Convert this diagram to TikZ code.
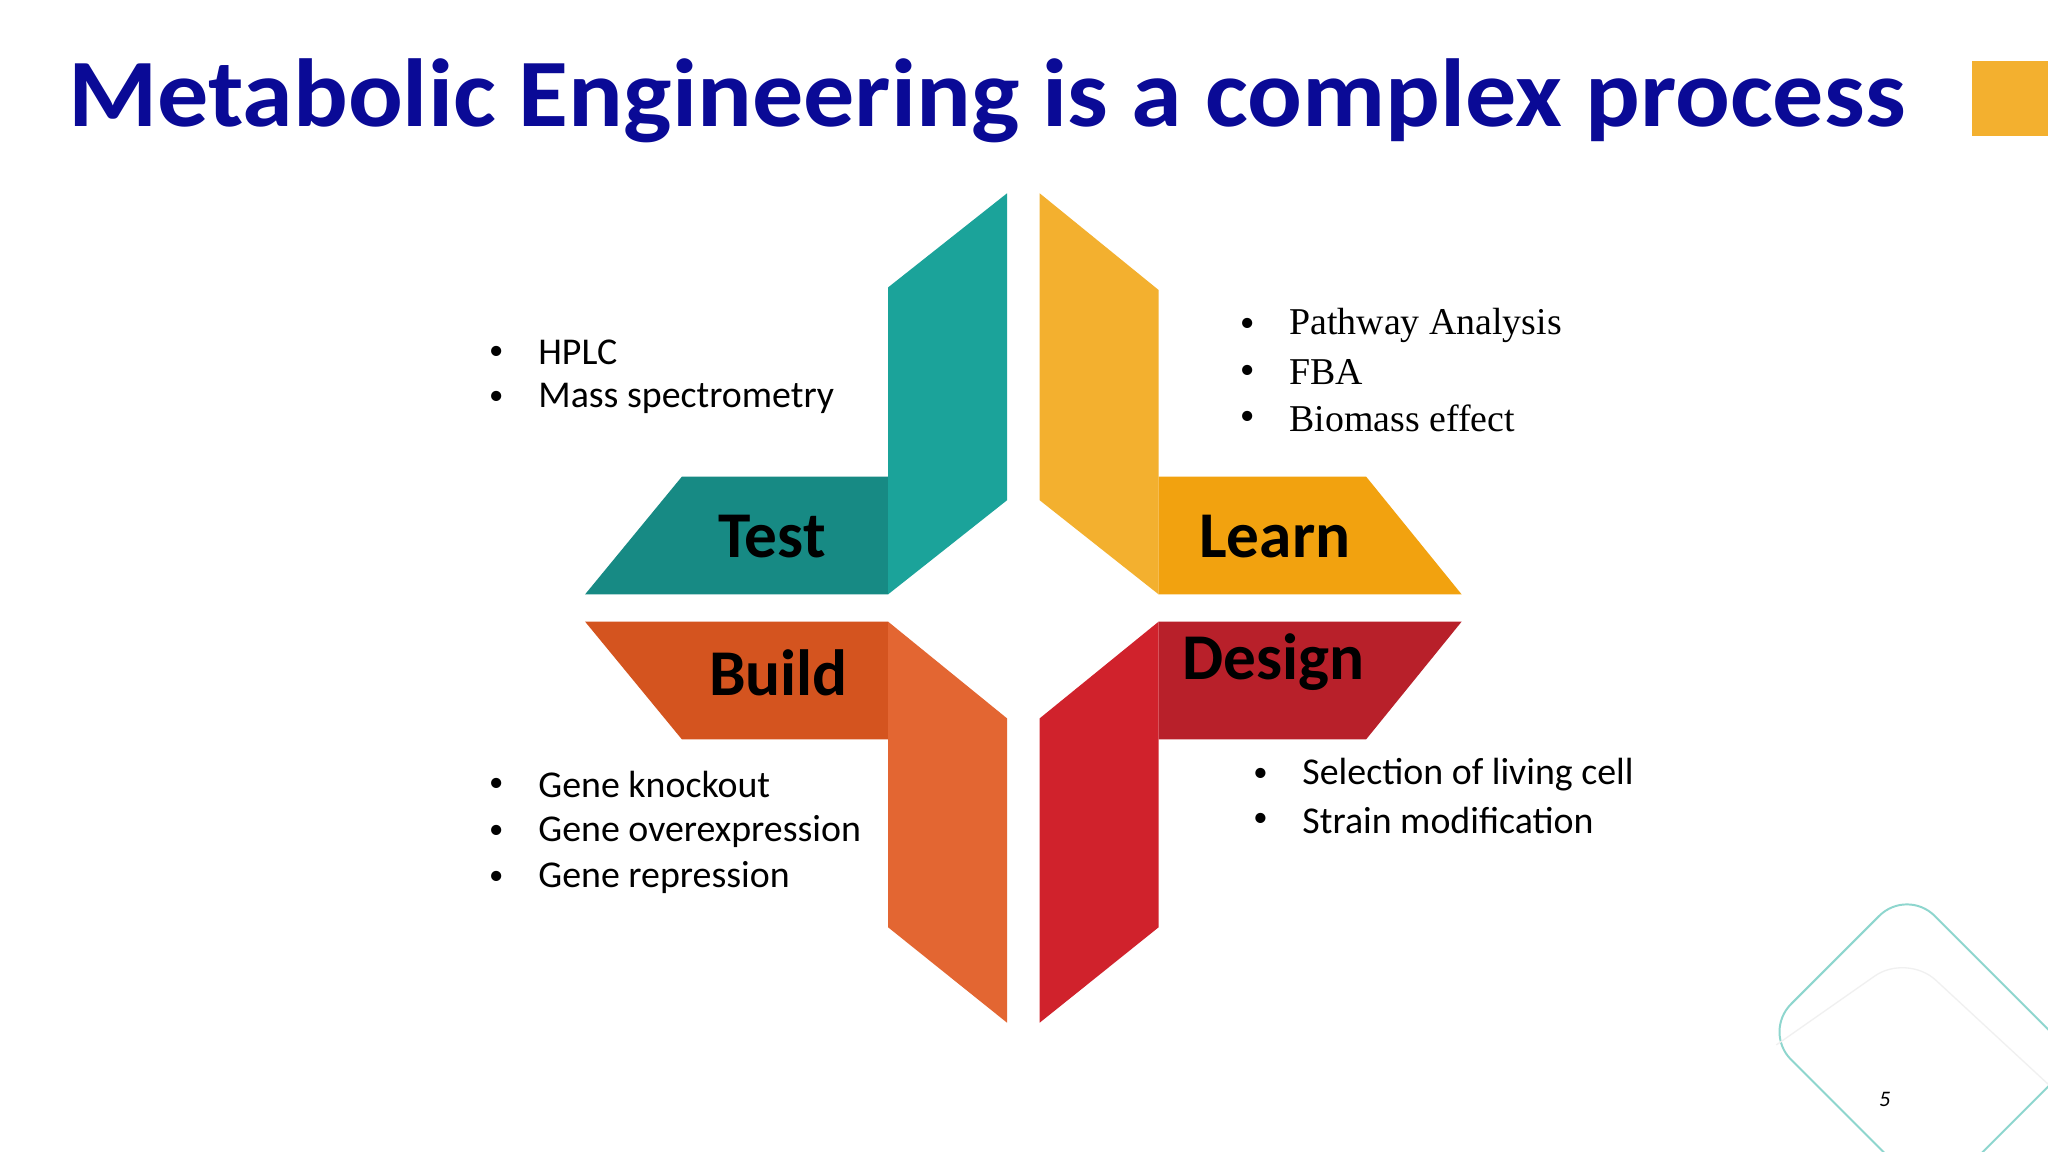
\documentclass[tikz,border=0pt]{standalone}
\usepackage{fontspec}
\setmainfont{Carlito}
\newfontfamily\seriff{Liberation Serif}
\begin{document}
\begin{tikzpicture}[x=1pt,y=-1pt,
  lbl/.style={font=\fontsize{50}{52}\selectfont\bfseries,text=black},
  itm/.style={anchor=west,font=\fontsize{29}{30}\selectfont,inner sep=0},
  sitm/.style={anchor=west,font=\seriff\fontsize{29}{30}\selectfont,inner sep=0},
  bul/.style={font=\fontsize{22}{24}\selectfont,inner sep=0}]
\useasboundingbox[fill=white] (0,0) rectangle (1568,882);
\definecolor{tealA}{HTML}{178A84}\definecolor{tealB}{HTML}{1BA39A}
\definecolor{yelA}{HTML}{F2A20F}\definecolor{yelB}{HTML}{F3B02F}
\definecolor{orA}{HTML}{D4541F}\definecolor{orB}{HTML}{E36632}
\definecolor{redA}{HTML}{B8202A}\definecolor{redB}{HTML}{D0222C}
\definecolor{navy}{HTML}{0A0A96}
\definecolor{deco}{HTML}{8ED6CE}
% decorations
\fill[yelB] (1510,47) rectangle (1568,104);
\draw[deco,line width=1.5pt,rounded corners=30] (1350,790) -- (1460,680) -- (1590,810) -- (1480,920) -- cycle;
\draw[gray!12,line width=1pt,rounded corners=30] (1360,800) -- (1460,730) -- (1568,830);
\node[anchor=west,font=\fontsize{74}{76}\selectfont\bfseries,text=navy,inner sep=0,xscale=1.057] (title) at (52,77) {Metabolic Engineering is a complex process};
\node[font=\itshape\fontsize{17}{18}\selectfont] (pg) at (1443,842) {5};
% shapes
\fill[tealA] (448,455) -- (522,365) -- (680,365) -- (680,455) -- cycle;
\fill[tealB] (680,220) -- (771,148) -- (771,383) -- (680,455) -- cycle;
\fill[yelB] (796,148) -- (887,222) -- (887,455) -- (796,383) -- cycle;
\fill[yelA] (887,365) -- (1046,365) -- (1119,455) -- (887,455) -- cycle;
\fill[orA] (448,476) -- (680,476) -- (680,566) -- (522,566) -- cycle;
\fill[orB] (680,476) -- (771,550) -- (771,783) -- (680,710) -- cycle;
\fill[redA] (887,476) -- (1119,476) -- (1046,566) -- (887,566) -- cycle;
\fill[redB] (796,550) -- (887,476) -- (887,710) -- (796,783) -- cycle;
\node[lbl] (test) at (591,411) {Test};
\node[lbl] (learn) at (976,411) {Learn};
\node[lbl] (build) at (596,515) {Build};
\node[lbl] (design) at (975,507) {Design};
% lists
\foreach \n/\y/\t in {a/270/HPLC,b/305/Mass spectrometry}{\node[bul] (bt\n) at (380,\y) {•};\node[itm] (t\n) at (412,\y) {\t};}
\foreach \n/\y/\t in {a/601/Gene knockout,b/637/Gene overexpression,c/672/Gene repression}{\node[bul] (bb\n) at (380,\y) {•};\node[itm] (b\n) at (412,\y) {\t};}
\foreach \n/\y/\t in {a/249/Pathway Analysis,b/285/FBA,c/320/Biomass effect}{\node[bul] (bl\n) at (955,\y) {•};\node[sitm] (l\n) at (987,\y) {\t};}
\foreach \n/\y/\t in {a/593/Selection of living cell,b/628/Strain modification}{\node[bul] (bd\n) at (965,\y) {•};\node[itm] (d\n) at (997,\y) {\t};}
\end{tikzpicture}
\end{document}
